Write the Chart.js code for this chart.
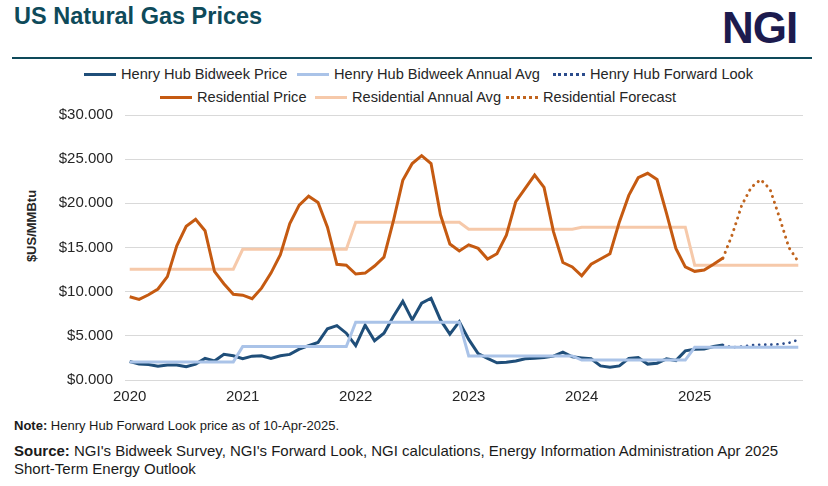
<!DOCTYPE html>
<html>
<head>
<meta charset="utf-8">
<script src="https://cdn.jsdelivr.net/npm/chart.js@4.4.1/dist/chart.umd.min.js"></script>
<style>
  body { margin: 0; background: #fff; font-family: "Liberation Sans", Arial, sans-serif; }
  #page { position: relative; width: 828px; height: 486px; overflow: hidden; }
  .abs { position: absolute; white-space: nowrap; }
  #title { left: 14px; top: 4px; font-size: 23.5px; line-height: 24px; font-weight: bold; color: #0E4A5A; }
  #logo { left: 722px; top: 6px; font-size: 44px; line-height: 44px; font-weight: bold; color: #1C1B4E; letter-spacing: -1px; }
  #rule { left: 12px; top: 57px; width: 800px; height: 2px; background: #0E4A5A; }
  .leg { font-size: 14.6px; line-height: 16px; color: #262626; }
  .swatch { position: absolute; width: 32px; height: 0; }
  #ytitle { left: 31px; top: 226px; font-size: 13px; font-weight: bold; color: #262626;
            transform: translate(-50%, -50%) rotate(-90deg); }
  #chartBox { left: 0; top: 94px; width: 828px; height: 311px; }
  #note { left: 14px; top: 418px; font-size: 13px; color: #1a1a1a; }
  #source { left: 14px; top: 442px; width: 790px; font-size: 15px; line-height: 18px; color: #1a1a1a; white-space: normal; }
</style>
</head>
<body>
<div id="page">
  <div id="title" class="abs">US Natural Gas Prices</div>
  <div id="logo" class="abs">NGI</div>
  <div id="rule" class="abs"></div>
  <div id="legend"></div>
  <div id="ytitle" class="abs">$US/MMBtu</div>
  <div id="chartBox" class="abs"><canvas id="gasChart" width="828" height="311"></canvas></div>
  <div id="note" class="abs"><b>Note:</b> Henry Hub Forward Look price as of 10-Apr-2025.</div>
  <div id="source" class="abs"><b>Source:</b> NGI's Bidweek Survey, NGI's Forward Look, NGI calculations, Energy Information Administration Apr 2025 Short-Term Energy Outlook</div>
</div>
<script>
// Years shown on the x axis (one label per January)
const years = ['2020', '2021', '2022', '2023', '2024', '2025'];

// Henry Hub bidweek monthly price, Jan 2020 - Apr 2025
const henryHubPrice = [
  2.1, 1.8, 1.75, 1.55, 1.7, 1.7, 1.5, 1.8, 2.45, 2.15, 2.9, 2.75,
  2.4, 2.7, 2.75, 2.45, 2.75, 2.9, 3.5, 3.9, 4.25, 5.8, 6.15, 5.3,
  3.9, 6.2, 4.45, 5.3, 7.2, 8.9, 6.8, 8.7, 9.25, 6.8, 5.2, 6.6,
  4.6, 3.0, 2.45, 1.95, 2.0, 2.15, 2.4, 2.45, 2.55, 2.7, 3.15, 2.62,
  2.5, 2.4, 1.6, 1.45, 1.6, 2.45, 2.55, 1.8, 1.9, 2.4, 2.2, 3.3,
  3.47, 3.5, 3.8, 3.96
];
// Henry Hub forward look, Apr 2025 - Dec 2025
const henryHubForward = [3.96, 3.7, 3.8, 3.95, 4.0, 4.0, 4.05, 4.2, 4.55];
// Henry Hub bidweek annual averages, 2020 - 2025
const henryHubAnnual = [2.05, 3.8, 6.55, 2.72, 2.26, 3.7];

// Residential monthly price, Jan 2020 - Apr 2025
const residentialPrice = [
  9.43, 9.13, 9.65, 10.3, 11.7, 15.2, 17.4, 18.2, 16.9, 12.3, 10.9, 9.7,
  9.6, 9.2, 10.4, 12.1, 14.2, 17.7, 19.8, 20.8, 20.1, 17.3, 13.1, 13.0,
  12.0, 12.1, 12.9, 13.9, 18.0, 22.6, 24.5, 25.4, 24.5, 18.7, 15.4, 14.6,
  15.3, 14.9, 13.7, 14.3, 16.4, 20.2, 21.7, 23.2, 21.8, 16.8, 13.3, 12.8,
  11.8, 13.1, 13.7, 14.3, 17.9, 20.9, 22.9, 23.4, 22.7, 18.9, 14.9, 12.8,
  12.3, 12.45, 13.1, 13.8
];
// Residential forecast (EIA STEO), Apr 2025 - Dec 2025
const residentialForecast = [13.8, 16.5, 19.8, 21.8, 22.7, 21.6, 18.4, 15.0, 13.4];
// Residential annual averages, 2020 - 2025
const residentialAnnual = [12.55, 14.8, 17.85, 17.08, 17.3, 13.0];

// y axis ticks
const yTicks = [0, 5, 10, 15, 20, 25, 30];

const colors = {
  hhPrice: '#1F4E79',
  hhAvg: '#AAC3E8',
  hhFwd: '#2B4C8C',
  resPrice: '#C55A11',
  resAvg: '#F6C9AA',
  resFcst: '#C0641E'
};

// monthly category labels, Jan 2020 .. Dec 2025
const months = [];
years.forEach(y => { for (let m = 1; m <= 12; m++) months.push(y + '-' + m); });

// spread annual averages over their months, pad other series with nulls
const expandAnnual = arr => arr.flatMap(v => Array(12).fill(v));
const padEnd = arr => arr.concat(Array(months.length - arr.length).fill(null));
const padStart = arr => Array(months.length - arr.length).fill(null).concat(arr);

function buildLegend() {
  const items = [
    { label: 'Henry Hub Bidweek Price', color: colors.hhPrice, dotted: false, x: 121, y: 66 },
    { label: 'Henry Hub Bidweek Annual Avg', color: colors.hhAvg, dotted: false, x: 334, y: 66 },
    { label: 'Henry Hub Forward Look', color: colors.hhFwd, dotted: true, x: 590, y: 66 },
    { label: 'Residential Price', color: colors.resPrice, dotted: false, x: 197, y: 89 },
    { label: 'Residential Annual Avg', color: colors.resAvg, dotted: false, x: 352, y: 89 },
    { label: 'Residential Forecast', color: colors.resFcst, dotted: true, x: 543, y: 89 }
  ];
  const box = document.getElementById('legend');
  items.forEach(it => {
    const sw = document.createElement('div');
    sw.className = 'swatch';
    sw.style.left = (it.x - 37) + 'px';
    sw.style.top = (it.y + 7) + 'px';
    sw.style.borderTop = it.dotted ? '3px dotted ' + it.color : '3px solid ' + it.color;
    box.appendChild(sw);
    const t = document.createElement('div');
    t.className = 'abs leg';
    t.style.left = it.x + 'px';
    t.style.top = it.y + 'px';
    t.textContent = it.label;
    box.appendChild(t);
  });
}

function renderChart() {
  buildLegend();
  const ctx = document.getElementById('gasChart').getContext('2d');
  const line = (data, color, extra) => Object.assign({
    data: data,
    borderColor: color,
    backgroundColor: color,
    borderWidth: 3,
    pointRadius: 0,
    tension: 0,
    spanGaps: false,
    fill: false
  }, extra || {});
  const dotted = { borderDash: [0.1, 6], borderCapStyle: 'round', borderWidth: 3 };

  new Chart(ctx, {
    type: 'line',
    data: {
      labels: months,
      datasets: [
        line(padEnd(residentialPrice), colors.resPrice),
        line(padStart(residentialForecast), colors.resFcst, dotted),
        line(expandAnnual(residentialAnnual), colors.resAvg),
        line(expandAnnual(henryHubAnnual), colors.hhAvg),
        line(padEnd(henryHubPrice), colors.hhPrice),
        line(padStart(henryHubForward), colors.hhFwd, Object.assign({}, dotted, { borderWidth: 2.6 }))
      ]
    },
    options: {
      responsive: false,
      animation: false,
      layout: { padding: { top: 0, right: 25, left: 0, bottom: 0 } },
      plugins: { legend: { display: false }, tooltip: { enabled: false } },
      scales: {
        x: {
          offset: true,
          border: { display: false },
          grid: { display: false, drawTicks: false },
          ticks: {
            autoSkip: false,
            maxRotation: 0,
            padding: 8,
            color: '#262626',
            font: { family: 'Liberation Sans', size: 15 },
            callback: function (v, i) {
              const lab = months[i];
              return lab.endsWith('-1') ? lab.split('-')[0] : '';
            }
          },
          afterFit: s => { s.height = 25; }
        },
        y: {
          min: 0,
          max: 30,
          border: { display: false },
          grid: { color: '#D9D9D9', lineWidth: 1, drawTicks: false },
          afterBuildTicks: s => { s.ticks = yTicks.map(v => ({ value: v })); },
          ticks: {
            padding: 12,
            color: '#262626',
            font: { family: 'Liberation Sans', size: 15 },
            callback: v => '$' + Number(v).toFixed(3)
          },
          afterFit: s => { s.width = 125; }
        }
      }
    }
  });
}

if (document.readyState === 'loading') {
  document.addEventListener('DOMContentLoaded', renderChart);
} else {
  renderChart();
}
</script>
</body>
</html>
